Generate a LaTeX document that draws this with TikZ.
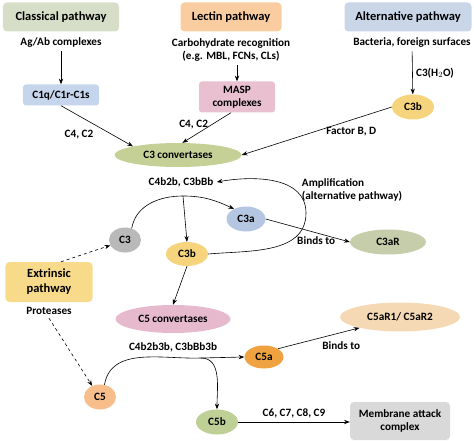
\documentclass[tikz,border=0pt]{standalone}
\usepackage{fontspec}
\setmainfont{Carlito}
\usetikzlibrary{shapes.geometric, arrows.meta, positioning}
\definecolor{classfill}{RGB}{215,222,200}
\definecolor{lectfill}{RGB}{250,205,160}
\definecolor{altfill}{RGB}{200,214,232}
\definecolor{cqfill}{RGB}{197,213,235}
\definecolor{maspfill}{RGB}{232,192,207}
\definecolor{convfill}{RGB}{196,208,150}
\definecolor{cbfill}{RGB}{245,212,125}
\definecolor{cgrey}{RGB}{185,185,185}
\definecolor{cafill}{RGB}{180,198,226}
\definecolor{carfill}{RGB}{198,205,170}
\definecolor{extfill}{RGB}{247,218,138}
\definecolor{cfconv}{RGB}{230,185,205}
\definecolor{cffill}{RGB}{247,190,140}
\definecolor{cfafill}{RGB}{240,162,65}
\definecolor{cfarfill}{RGB}{245,217,180}
\definecolor{cfbfill}{RGB}{190,208,150}
\definecolor{macfill}{RGB}{217,217,217}
\tikzstyle{pathbox} = [rectangle, rounded corners=4pt, minimum height=29pt, text centered, font=\fontsize{12.5}{15}\selectfont\bfseries]
\tikzstyle{cbox} = [rectangle, rounded corners=3pt, text centered, align=center, font=\fontsize{11.2}{13}\selectfont\bfseries]
\tikzstyle{blob} = [ellipse, inner sep=0pt, text centered, font=\fontsize{11.2}{13}\selectfont\bfseries]
\tikzstyle{lbl} = [text centered, align=center, font=\fontsize{11.2}{13.5}\selectfont\bfseries]
\tikzstyle{arrow} = [line width=0.6pt,->,>=Stealth]
\begin{document}
\begin{tikzpicture}[node distance=26pt, every node/.style={font=\fontsize{11.2}{13}\selectfont\bfseries}]
\tikzstyle{pathbox} = [rectangle, rounded corners=4pt, minimum height=29pt, text centered, font=\fontsize{12.5}{15}\selectfont\bfseries]
\tikzstyle{cbox} = [rectangle, rounded corners=3pt, text centered, align=center, font=\fontsize{11.2}{13}\selectfont\bfseries]
\tikzstyle{blob} = [ellipse, inner sep=0pt, text centered, font=\fontsize{11.2}{13}\selectfont\bfseries]
\tikzstyle{lbl} = [text centered, align=center, font=\fontsize{11.2}{13.5}\selectfont\bfseries]
\tikzstyle{arrow} = [line width=0.6pt,->,>=Stealth]
\useasboundingbox (-61pt,17pt) rectangle (413pt,-427pt);

\node (classical) [pathbox, minimum width=116pt, fill=classfill] {Classical pathway};
\node (agab) [lbl, below of=classical] {Ag/Ab complexes};
\node (c1) [cbox, below of=agab, yshift=-26pt, minimum width=76pt, minimum height=21pt, fill=cqfill] {C1q/C1r-C1s};
\node (lectin) [pathbox, right of=classical, xshift=144pt, minimum width=101pt, fill=lectfill] {Lectin pathway};
\node (carb) [lbl, below of=lectin, yshift=-7pt] {Carbohydrate recognition\\(e.g. MBL, FCNs, CLs)};
\node (masp) [cbox, below of=carb, yshift=-21pt, xshift=6pt, minimum width=76pt, minimum height=31pt, fill=maspfill] {MASP\\complexes};
\node (alt) [pathbox, right of=lectin, xshift=151pt, minimum width=127pt, fill=altfill] {Alternative pathway};
\node (bact) [lbl, below of=alt, xshift=4pt] {Bacteria, foreign surfaces};
\node (c3btop) [blob, below of=bact, yshift=-38pt, xshift=1pt, minimum width=42pt, minimum height=25pt, fill=cbfill] {C3b};
\node (c3conv) [blob, below of=c1, yshift=-34pt, xshift=117pt, minimum width=127pt, minimum height=24pt, fill=convfill] {C3 convertases};
\node (c4b2b) [lbl, below of=c3conv, yshift=-1pt, xshift=3pt] {C4b2b, C3bBb};
\node (amp) [lbl, align=left, right of=c4b2b, xshift=145pt, yshift=-8pt] {Amplification\\(alternative pathway)};
\node (c3) [blob, below of=c4b2b, yshift=-32pt, xshift=-56pt, minimum width=32pt, minimum height=25pt, fill=cgrey] {C3};
\node (c3a) [blob, right of=c4b2b, xshift=39pt, yshift=-37pt, minimum width=39pt, minimum height=25pt, fill=cafill] {C3a};
\node (c3bmid) [blob, below of=c4b2b, yshift=-46pt, xshift=6pt, minimum width=42pt, minimum height=24pt, fill=cbfill] {C3b};
\node (c3ar) [blob, right of=c3a, xshift=116pt, yshift=-23pt, minimum width=76pt, minimum height=25pt, fill=carfill] {C3aR};
\node (extr) [cbox, below of=c3, yshift=-16pt, xshift=-76pt, minimum width=87pt, minimum height=40pt, rounded corners=4pt, fill=extfill, font=\fontsize{12.5}{15}\selectfont\bfseries] {Extrinsic\\pathway};
\node (prot) [lbl, below of=extr, yshift=-3pt] {Proteases};
\node (c5conv) [blob, below of=c3bmid, yshift=-39pt, xshift=-14pt, minimum width=115pt, minimum height=28pt, fill=cfconv] {C5 convertases};
\node (c5lab) [lbl, below of=c5conv, yshift=-2pt] {C4b2b3b, C3bBb3b};
\node (c5) [blob, below of=c5lab, yshift=-24pt, xshift=-73pt, minimum width=32pt, minimum height=25pt, fill=cffill] {C5};
\node (c5a) [blob, right of=c5lab, xshift=65pt, yshift=-10pt, minimum width=39pt, minimum height=23pt, fill=cfafill] {C5a};
\node (c5ar) [blob, right of=c5a, xshift=110pt, yshift=40pt, minimum width=120pt, minimum height=29pt, fill=cfarfill] {C5aR1/ C5aR2};
\node (c5b) [blob, below of=c5a, xshift=-47pt, yshift=-39pt, minimum width=42pt, minimum height=25pt, fill=cfbfill] {C5b};
\node (mac) [cbox, right of=c5b, xshift=157pt, yshift=1pt, minimum width=100pt, minimum height=38pt, rounded corners=4pt, fill=macfill] {Membrane attack\\complex};
\coordinate (split) at ([xshift=2pt,yshift=-14pt]c4b2b.center);
\coordinate (loopedge) at ([xshift=125pt,yshift=-31pt]c4b2b.center);
\coordinate (split2) at ([xshift=-63pt,yshift=-1pt]c5a.center);

\draw [arrow] (agab) -- (c1);
\draw [arrow] (c1.south) -- node[below left]{C4, C2} (c3conv.north west);
\draw [arrow] (masp.north |- carb.south) -- (masp.north);
\draw [arrow] ([xshift=-6pt]masp.south) -- node[left, pos=0.4]{C4, C2} (c3conv.70);
\draw [arrow] (bact) -- node[right]{C3(H$_2$O)} (c3btop);
\draw [arrow] (c3btop.west) -- node[below, pos=0.27, yshift=-4pt]{Factor B, D} (c3conv.east);
\draw [arrow] (c3.60) to[out=80,in=180] (split) to[out=0,in=155] (c3a.140);
\draw [arrow] (split) -- (c3bmid.north);
\draw [arrow] (c3bmid.east) to[out=5,in=-90] (loopedge) to[out=90,in=10] (c4b2b.east);
\draw [arrow] (c3a.east) -- node[below, pos=0.6]{Binds to} (c3ar.west);
\draw [arrow] (c3bmid.south) -- (c5conv.north);
\draw [arrow, dashed] ([xshift=12pt]extr.north) -- (c3.200);
\draw [arrow, dashed] (prot.south) -- (c5.125);
\draw [arrow] (c5.70) to[out=80,in=182] (split2) -- (c5a.west);
\draw [arrow] (split2) to[out=0,in=90] (c5b.north);
\draw [arrow] (c5a.north east) -- node[below right]{Binds to} (c5ar.195);
\draw [arrow] (c5b.east) -- node[above]{C6, C7, C8, C9} (c5b.east -| mac.west);
\end{tikzpicture}
\end{document}
